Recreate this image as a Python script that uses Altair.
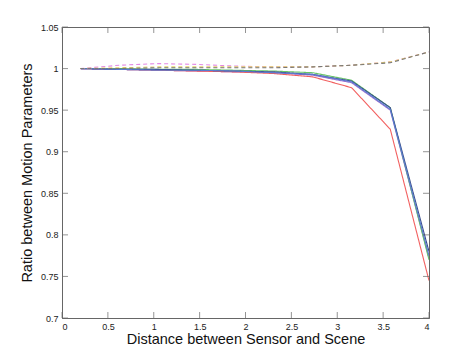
import altair as alt
import pandas as pd

x_vals = [0.2, 0.622, 1.044, 1.467, 1.889, 2.311, 2.733, 3.156, 3.578, 4.0]

purple = [1.0, 0.999, 0.998, 0.997, 0.996, 0.995, 0.992, 0.983, 0.950, 0.772]
red = [1.0, 0.999, 0.998, 0.997, 0.996, 0.994, 0.990, 0.977, 0.927, 0.745]
green = [1.0, 1.0, 0.999, 0.999, 0.998, 0.997, 0.995, 0.986, 0.953, 0.770]
navy = [1.0, 0.999, 0.999, 0.998, 0.997, 0.996, 0.993, 0.985, 0.953, 0.780]
blue = [1.0, 0.999, 0.998, 0.998, 0.997, 0.995, 0.993, 0.984, 0.951, 0.775]
magenta_d = [1.0, 1.004, 1.006, 1.005, 1.003, 1.002, 1.002, 1.004, 1.008, 1.020]
yellow_d = [1.0, 1.001, 1.002, 1.002, 1.002, 1.002, 1.002, 1.004, 1.008, 1.020]
gray_d = [1.0, 1.0, 1.001, 1.001, 1.001, 1.001, 1.002, 1.004, 1.007, 1.020]

series = {
    "purple": (purple, "solid"),
    "red": (red, "solid"),
    "green": (green, "solid"),
    "navy": (navy, "solid"),
    "blue": (blue, "solid"),
    "magenta_d": (magenta_d, "dashed"),
    "yellow_d": (yellow_d, "dashed"),
    "gray_d": (gray_d, "dashed"),
}
names = list(series.keys())
colors = ["#a070d0", "#f26060", "#66c466", "#3a4f8a", "#5a7ad0", "#e488e4", "#e6d66a", "#787878"]

rows = []
for i, (name, (vals, style)) in enumerate(series.items()):
    for x, y in zip(x_vals, vals):
        rows.append({"x": x, "y": y, "s": name, "style": style, "order": i})
df = pd.DataFrame(rows)

x_ticks = [0, 0.5, 1, 1.5, 2, 2.5, 3, 3.5, 4]
y_ticks = [0.7, 0.75, 0.8, 0.85, 0.9, 0.95, 1.0, 1.05]

W, H = 367, 291

xs = alt.Scale(domain=[0, 4], nice=False, zero=False)
ys = alt.Scale(domain=[0.7, 1.05], nice=False, zero=False)

lines = alt.Chart(df).mark_line(strokeWidth=1.1, clip=True).encode(
    x=alt.X("x:Q", scale=xs,
            axis=alt.Axis(values=x_ticks, format="~g", title="Distance between Sensor and Scene",
                          grid=False, tickSize=0, labelPadding=4, titlePadding=1)),
    y=alt.Y("y:Q", scale=ys,
            axis=alt.Axis(values=y_ticks, format="~g", title="Ratio between Motion Parameters",
                          grid=False, tickSize=0, labelPadding=4, titlePadding=6)),
    color=alt.Color("s:N", scale=alt.Scale(domain=names, range=colors), legend=None),
    strokeDash=alt.StrokeDash("style:N", scale=alt.Scale(domain=["solid", "dashed"], range=[[1, 0], [4, 3]]), legend=None),
    detail="s:N",
)

tick_x = pd.DataFrame({"t": x_ticks})
tick_y = pd.DataFrame({"t": y_ticks})
tcol = "#666666"
xb = alt.Chart(tick_x).mark_tick(color=tcol, size=6, thickness=1, orient="vertical").encode(
    x=alt.X("t:Q", scale=xs), y=alt.value(H - 3))
xt = alt.Chart(tick_x).mark_tick(color=tcol, size=6, thickness=1, orient="vertical").encode(
    x=alt.X("t:Q", scale=xs), y=alt.value(3))
yl = alt.Chart(tick_y).mark_tick(color=tcol, size=6, thickness=1, orient="horizontal").encode(
    y=alt.Y("t:Q", scale=ys), x=alt.value(3))
yr = alt.Chart(tick_y).mark_tick(color=tcol, size=6, thickness=1, orient="horizontal").encode(
    y=alt.Y("t:Q", scale=ys), x=alt.value(W - 3))

chart = alt.layer(lines, xb, xt, yl, yr).properties(
    width=W, height=H,
    autosize=alt.AutoSizeParams(type="none"),
    padding={"left": 54, "top": 19, "right": 30, "bottom": 40},
).configure_view(stroke=tcol, strokeWidth=1).configure_axis(
    domainColor=tcol,
    labelFont="Liberation Sans", labelFontSize=9, labelColor="#222222",
    titleFont="Liberation Sans", titleFontSize=14.5, titleFontWeight="normal", titleColor="#111111",
)

chart.save("out.html", embed_options={"renderer": "svg", "actions": False})
